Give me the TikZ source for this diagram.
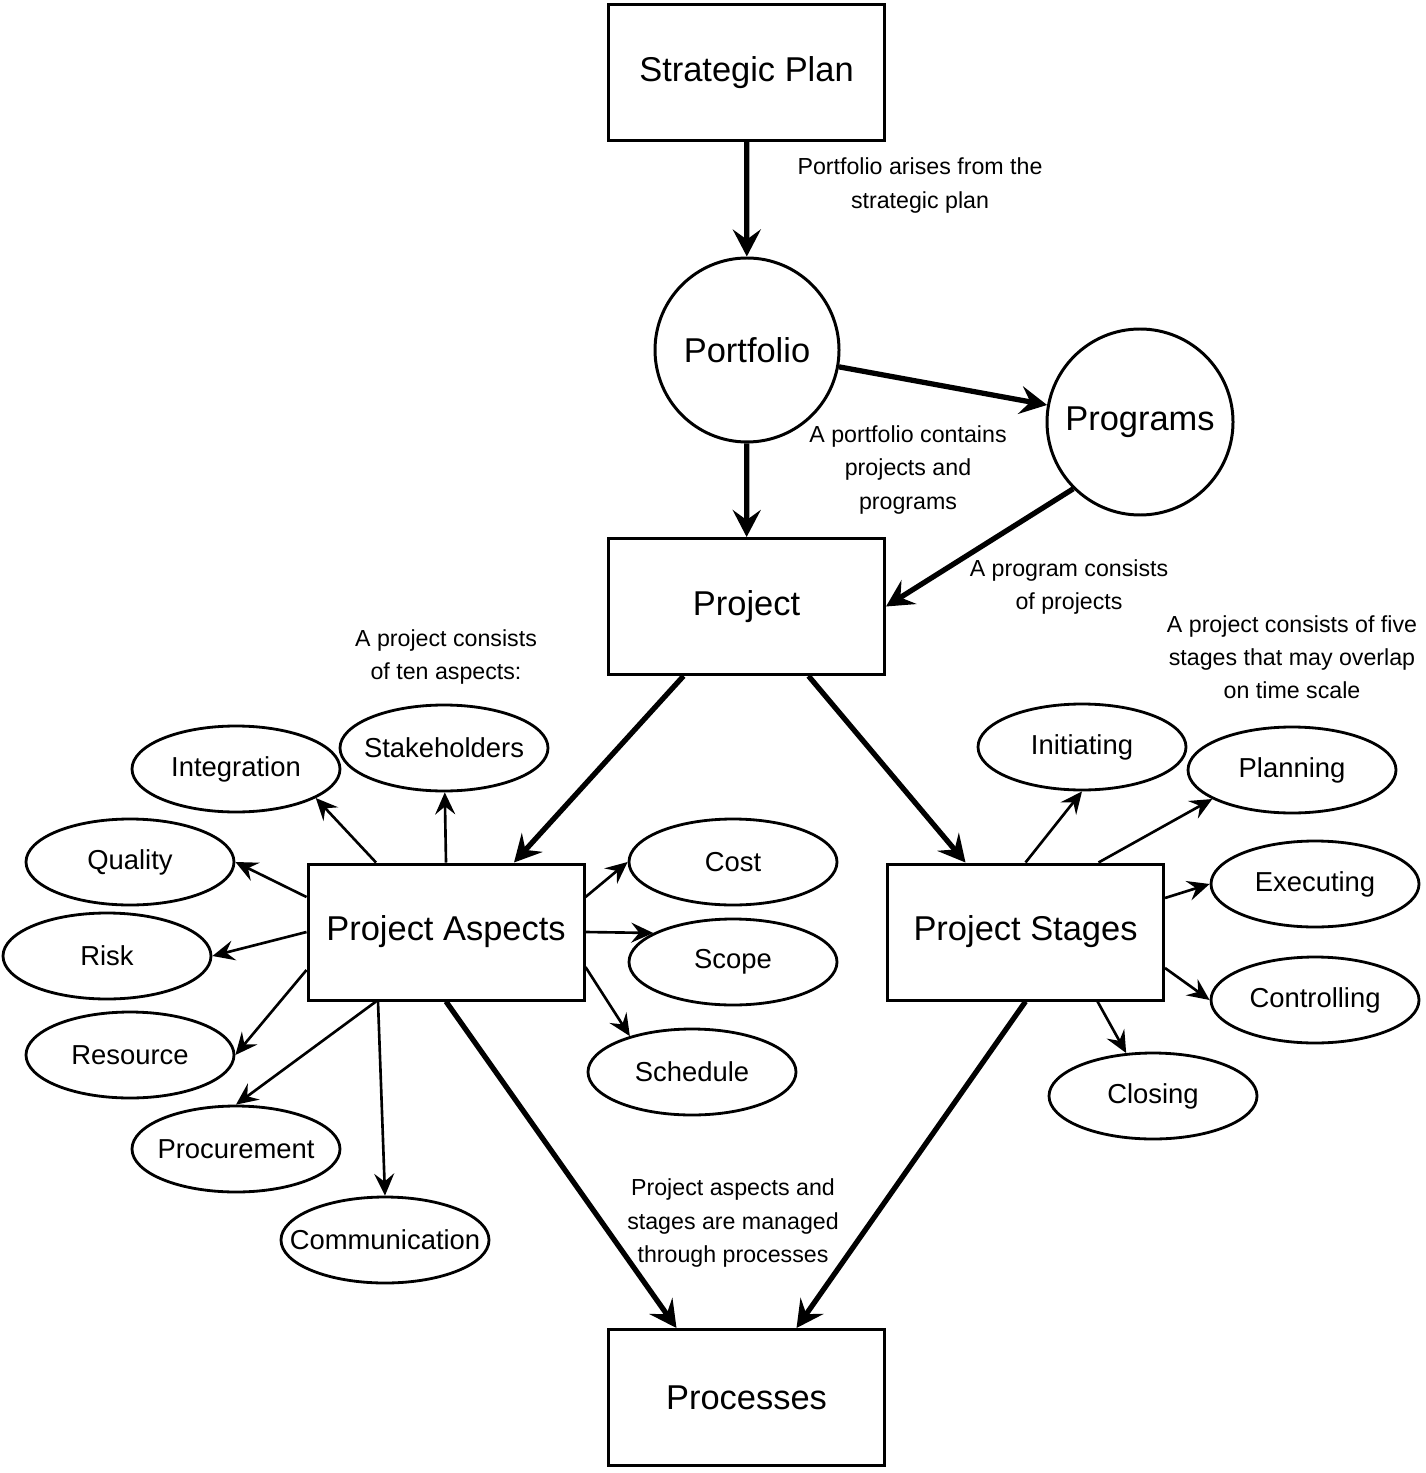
\documentclass[tikz,border=0pt]{standalone}
\usepackage{fontspec}
\setmainfont{Liberation Sans}
\usetikzlibrary{arrows.meta,shapes.geometric}

\newcommand{\grossschrift}{\fontsize{9.8}{12}\selectfont}
\newcommand{\ovalschrift}{\fontsize{7.8}{9.4}\selectfont}
\newcommand{\notizschrift}{\fontsize{6.6}{9.4}\selectfont}

\tikzset{
    kasten/.style={draw, line width=0.85pt, minimum width=2.76cm, minimum height=1.36cm, font=\grossschrift},
    kreis/.style={circle, draw, line width=0.85pt, minimum size=1.84cm, inner sep=0pt, font=\grossschrift},
    oval/.style={ellipse, draw, line width=0.8pt, minimum width=2.08cm, minimum height=0.86cm, inner sep=0pt, font=\ovalschrift},
    notiz/.style={align=center, inner sep=0pt, font=\notizschrift},
    dickpfeil/.style={line width=1.5pt, -{Stealth[length=0.27cm, width=0.28cm, inset=0.1cm]}},
    pfeil/.style={line width=0.75pt, -{Stealth[length=0.22cm, width=0.2cm, inset=0.08cm]}}
}

\begin{document}
\begin{tikzpicture}
        \useasboundingbox (0,0) rectangle (14.25,-14.73);

        % Hauptkaesten
        \node [kasten] (strategie) at (7.465,-0.725) {Strategic Plan};
        \node [kreis] (portfolio) at (7.47,-3.50) {Portfolio};
        \node [kreis, minimum size=1.86cm] (programme) at (11.40,-4.22) {Programs};
        \node [kasten] (projekt) at (7.465,-6.065) {Project};
        \node [kasten] (aspekte) at (4.46,-9.32) {Project Aspects};
        \node [kasten] (phasen) at (10.255,-9.32) {Project Stages};
        \node [kasten] (prozesse) at (7.465,-13.975) {Processes};

        % Ovale
        \foreach \name/\x/\y/\text in {stakeholders/4.44/-7.48/Stakeholders, integration/2.36/-7.69/Integration,
            quality/1.30/-8.62/Quality, risk/1.07/-9.56/Risk, resource/1.30/-10.55/Resource,
            procurement/2.36/-11.49/Procurement, communication/3.85/-12.40/Communication,
            cost/7.33/-8.62/Cost, scope/7.33/-9.62/Scope, schedule/6.92/-10.72/Schedule,
            initiating/10.82/-7.47/Initiating, planning/12.92/-7.70/Planning,
            executing/13.15/-8.84/Executing, controlling/13.15/-10.00/Controlling, closing/11.53/-10.96/Closing}
        {
            \node [oval] (\name) at (\x,\y) {\makebox[0pt]{\text}};
        }

        % Notizen
        \node [notiz] (n1) at (9.20,-1.855) {Portfolio arises from the\\strategic plan};
        \node [notiz] (n2) at (9.08,-4.70) {A portfolio contains\\projects and\\programs};
        \node [notiz] (n3) at (10.69,-5.87) {A program consists\\of projects};
        \node [notiz] (n4) at (4.46,-6.57) {A project consists\\of ten aspects:};
        \node [notiz] (n5) at (12.92,-6.57) {A project consists of five\\stages that may overlap\\on time scale};
        \node [notiz] (n6) at (7.33,-12.23) {Project aspects and\\stages are managed\\through processes};

        % dicke Pfeile
        \draw [dickpfeil] (strategie) -- (portfolio);
        \draw [dickpfeil] (portfolio) -- (programme);
        \draw [dickpfeil] (portfolio) -- (projekt);
        \draw [dickpfeil] (programme.225) -- (projekt.east);
        \draw [dickpfeil] ([xshift=-0.63cm]projekt.south) -- ([xshift=0.68cm]aspekte.north);
        \draw [dickpfeil] ([xshift=0.62cm]projekt.south) -- ([xshift=-0.6cm]phasen.north);
        \draw [dickpfeil] (aspekte.south) -- ([xshift=-0.7cm]prozesse.north);
        \draw [dickpfeil] (phasen.south) -- ([xshift=0.5cm]prozesse.north);

        % Aspekte
        \draw [pfeil] (aspekte.north) -- (stakeholders);
        \draw [pfeil] ([xshift=-0.7cm]aspekte.north) -- (integration.340);
        \draw [pfeil] ([yshift=0.35cm]aspekte.west) -- (quality.east);
        \draw [pfeil] (aspekte.west) -- (risk.east);
        \draw [pfeil] ([yshift=-0.38cm]aspekte.west) -- (resource.east);
        \draw [pfeil] ([xshift=-0.7cm]aspekte.south) -- (procurement.north);
        \draw [pfeil] ([xshift=-0.68cm]aspekte.south) -- (communication.north);
        \draw [pfeil] ([yshift=0.35cm]aspekte.east) -- (cost.west);
        \draw [pfeil] (aspekte.east) -- (scope.160);
        \draw [pfeil] ([yshift=-0.35cm]aspekte.east) -- (schedule.150);

        % Phasen
        \draw [pfeil] (phasen.north) -- (initiating.south);
        \draw [pfeil] ([xshift=0.73cm]phasen.north) -- (planning.200);
        \draw [pfeil] ([yshift=0.34cm]phasen.east) -- (executing.west);
        \draw [pfeil] ([yshift=-0.36cm]phasen.east) -- (controlling.west);
        \draw [pfeil] ([xshift=0.72cm]phasen.south) -- (closing.122);
\end{tikzpicture}
\end{document}
